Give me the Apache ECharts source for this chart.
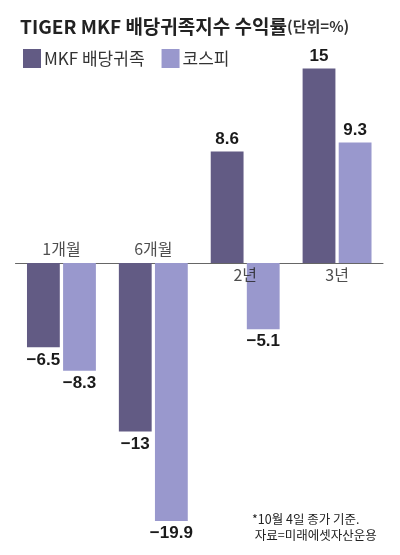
<!DOCTYPE html>
<html>
<head>
<meta charset="utf-8">
<script src="https://cdn.jsdelivr.net/npm/echarts@6/dist/echarts.min.js"></script>
<style>
  html, body { margin: 0; padding: 0; background: #fff; }
  #chart { width: 400px; height: 555px; }
</style>
</head>
<body>
<div id="chart"></div>
<script>
const categories = ["1개월", "6개월", "2년", "3년"];
const mkfValues = [-6.5, -13, 8.6, 15];
const kospiValues = [-8.3, -19.9, -5.1, 9.3];
const seriesNames = ["MKF 배당귀족", "코스피"];

const KR = "'Noto Sans CJK KR', sans-serif";
const NUM = "'Liberation Sans Narrow', 'Liberation Sans', sans-serif";

const fmtNum = function(p) {
  return String(p.value).replace("-", "\u2212");
};

// category names sit on the opposite side of the zero line from the first bar
const catLabels = categories.map(function(c, i) {
  return {
    value: 0,
    label: { position: mkfValues[i] < 0 ? "top" : "bottom", distance: mkfValues[i] < 0 ? 6 : 4 }
  };
});

const barLabel = function(vals) {
  return vals.map(function(v) {
    return { value: v, label: { position: v < 0 ? "bottom" : "top" } };
  });
};

const chart = echarts.init(document.getElementById("chart"));
chart.setOption({
  animation: false,
  title: {
    left: 15,
    top: 12,
    text: "{b|TIGER MKF 배당귀족지수 수익률}{n|(단위=%)}",
    textStyle: {
      rich: {
        b: { fontFamily: KR, fontSize: 19, fontWeight: "bold", color: "#222", letterSpacing: -1 },
        n: { fontFamily: KR, fontSize: 15, color: "#333" }
      }
    }
  },
  legend: {
    left: 18,
    top: 44,
    itemWidth: 18,
    itemHeight: 19,
    itemGap: 17,
    icon: "rect",
    data: seriesNames,
    textStyle: { fontFamily: KR, fontSize: 17, color: "#333", padding: [0, 0, 0, -2] }
  },
  grid: { left: 15.5, right: 17, top: 55.5, bottom: 32.6, containLabel: false },
  xAxis: {
    type: "category",
    data: categories,
    axisLine: { onZero: true, lineStyle: { color: "#666", width: 1 } },
    axisTick: { show: false },
    axisLabel: { show: false }
  },
  yAxis: {
    type: "value",
    min: -20,
    max: 16,
    show: false,
    splitLine: { show: false }
  },
  series: [
    {
      name: seriesNames[0],
      type: "bar",
      barGap: "10%",
      barCategoryGap: "25%",
      itemStyle: { color: "#625b84" },
      label: {
        show: true,
        distance: 4,
        fontFamily: NUM,
        fontWeight: "bold",
        fontSize: 17,
        color: "#1a1a1a",
        formatter: fmtNum
      },
      data: barLabel(mkfValues)
    },
    {
      name: seriesNames[1],
      type: "bar",
      itemStyle: { color: "#9998cd" },
      label: {
        show: true,
        distance: 4,
        fontFamily: NUM,
        fontWeight: "bold",
        fontSize: 17,
        color: "#1a1a1a",
        formatter: fmtNum
      },
      data: barLabel(kospiValues)
    },
    {
      type: "scatter",
      symbolSize: 0,
      silent: true,
      label: {
        show: true,
        fontFamily: KR,
        fontSize: 16,
        color: "#222",
        formatter: function(p) { return categories[p.dataIndex]; }
      },
      data: catLabels
    }
  ],
  graphic: [
    {
      type: "text",
      left: 252,
      top: 511,
      style: {
        text: "*10월 4일 종가 기준.\n 자료=미래에셋자산운용",
        fontFamily: KR,
        fontSize: 12.5,
        lineHeight: 16,
        fill: "#222"
      }
    }
  ]
});
</script>
</body>
</html>
